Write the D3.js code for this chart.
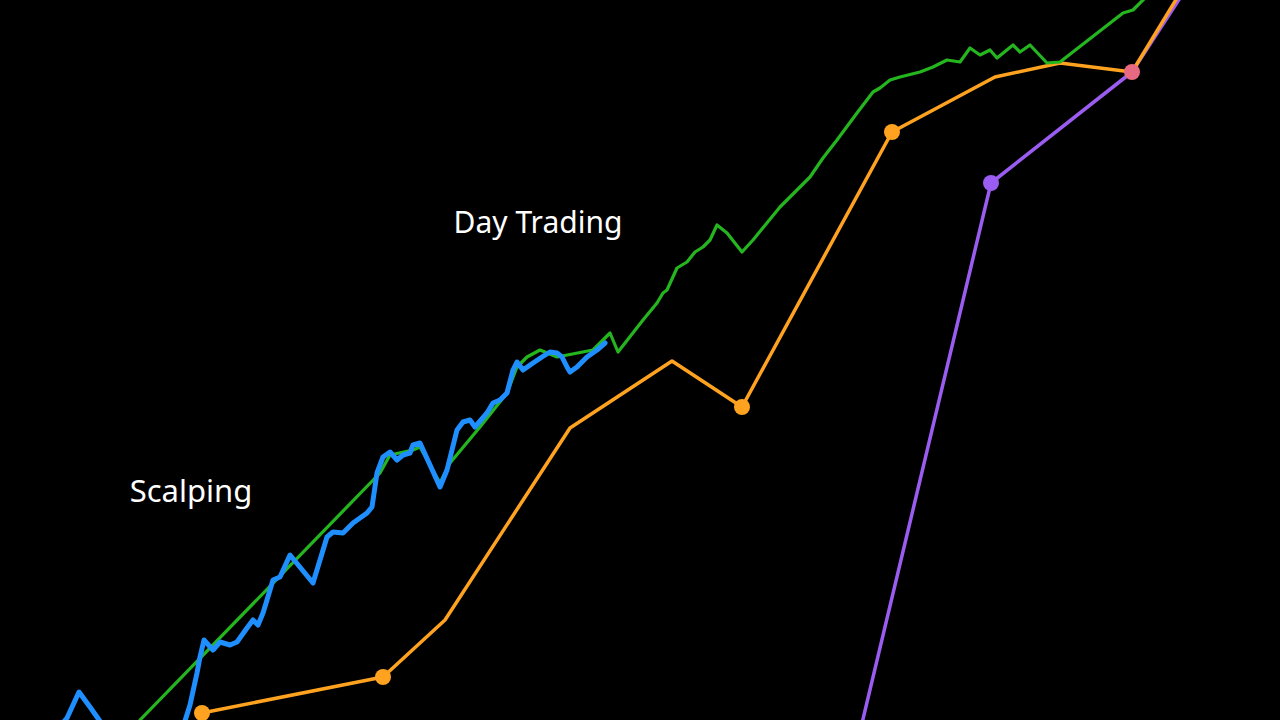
<!DOCTYPE html>
<html lang="en">

<head>
    <meta charset="utf-8">
    <script src='https://d3js.org/d3.v7.min.js'></script>
    <style>
        body { margin: 0; background: #000; overflow: hidden; }
    </style>
</head>

<body>
    <div class="chart"></div>

    <script>
        // Data (x = time, y = equity)
        const scalping1 = [[6.2, -0.4], [6.7, 0.2], [7.9, 2.8], [9.0, 1.3], [9.7, 0.3], [10.2, -0.4]];
        const scalping2 = [[18.4, -0.4], [19.0, 1.5], [19.7, 4.7], [20.0, 6.3], [20.4, 8.0], [21.3, 7.0], [22.0, 7.8],
            [23.0, 7.5], [23.7, 7.8], [24.7, 9.2], [25.3, 10.0], [25.8, 9.5], [26.3, 10.7], [26.7, 12.0], [27.3, 14.0],
            [28.0, 14.3], [29.0, 16.5], [31.3, 13.7], [32.7, 18.3], [33.3, 18.8], [34.3, 18.7], [35.3, 19.7], [36.7, 20.7],
            [37.2, 21.3], [37.7, 24.7], [38.3, 26.3], [39.0, 26.8], [39.7, 26.0], [40.3, 26.5], [41.0, 26.7], [41.3, 27.5],
            [42.0, 27.7], [43.0, 25.5], [44.0, 23.3], [44.7, 25.0], [45.7, 29.0], [46.3, 29.8], [47.0, 30.0], [47.5, 29.3],
            [48.7, 30.7], [49.3, 31.7], [50.0, 32.0], [50.7, 32.7], [51.3, 35.0], [51.7, 35.8], [52.3, 35.0], [53.3, 35.7],
            [54.2, 36.3], [55.0, 36.8], [55.7, 36.7], [56.2, 36.3], [56.7, 35.3], [57.0, 34.8], [57.7, 35.3], [58.7, 36.3],
            [59.7, 37.0], [60.5, 37.7]];
        const dayTrading = [[14.0, 0], [38.0, 24.7], [39.0, 26.5], [41.3, 27.0], [42.0, 27.3], [43.0, 25.5], [44.0, 23.7],
            [45.0, 25.7], [48.0, 29.3], [50.7, 32.7], [51.7, 35.3], [52.7, 36.3], [54.0, 37.0], [54.5, 36.8], [55.7, 36.3],
            [59.3, 37.0], [61.0, 38.7], [61.8, 36.8], [64.3, 40.0], [65.7, 41.7], [66.3, 42.7], [66.7, 43.0], [67.7, 45.2],
            [68.7, 45.8], [69.5, 46.8], [70.3, 47.3], [71.0, 48.0], [71.7, 49.5], [72.7, 48.7], [74.2, 46.8], [75.3, 48.0],
            [78.0, 51.3], [81.0, 54.3], [82.3, 56.2], [83.7, 58.0], [85.7, 60.7], [87.3, 62.8], [88.0, 63.2], [89.0, 64.0],
            [90.0, 64.3], [92.0, 64.8], [93.3, 65.3], [94.7, 66.0], [96.0, 65.8], [97.0, 67.2], [98.0, 66.5], [99.0, 67.0],
            [99.7, 66.2], [101.3, 67.5], [102.0, 66.8], [103.0, 67.5], [104.7, 65.7], [106.0, 65.8], [112.3, 70.7],
            [113.3, 71.0], [114.5, 72.2]];
        const swing = [[20.2, 0.7], [38.3, 4.3], [44.5, 10.0], [57.0, 29.2], [67.2, 35.9], [74.2, 31.3], [89.2, 58.8],
            [99.5, 64.3], [106.0, 65.7], [113.2, 64.8], [117.7, 72.2]];
        const position = [[85.8, -2], [99.1, 53.7], [113.2, 64.8], [118.0, 72.2]];

        // which points get a dot
        const swingDots = [20.2, 38.3, 74.2, 89.2];
        const positionDots = [99.1];
        const sharedDot = [[113.2, 64.8]];

        const labels = [
            { text: "Day Trading", x: 53.8, y: 48.7, size: 30 },
            { text: "Scalping", x: 19.1, y: 21.8, size: 31 }
        ];

        // Set Dimensions
        const xSize = 1280;
        const ySize = 720;

        const svg = d3.select(".chart")
            .append("svg")
            .attr("width", xSize)
            .attr("height", ySize)
            .style("display", "block")
            .style("background", "#000");

        // scales
        const x = d3.scaleLinear().domain([0, 128]).range([0, xSize]);
        const y = d3.scaleLinear().domain([0, 72]).range([ySize, 0]);

        const line = d3.line()
            .x(d => x(d[0]))
            .y(d => y(d[1]));

        // function to add one line
        function addLine(data, colour, width) {
            svg.append("path")
                .datum(data)
                .attr("fill", "none")
                .attr("stroke", colour)
                .attr("stroke-width", width)
                .attr("stroke-linejoin", "round")
                .attr("stroke-linecap", "round")
                .attr("d", line);
        }

        addLine(position, "#9b5cf2", 3.5);
        addLine(swing, "#ffa21f", 3.5);
        addLine(dayTrading, "#24b51f", 3.2);
        addLine(scalping1, "#1f8fff", 5);
        addLine(scalping2, "#1f8fff", 5);

        // dots
        function addDots(data, colour) {
            svg.selectAll(null)
                .data(data)
                .enter()
                .append("circle")
                .attr("cx", d => x(d[0]))
                .attr("cy", d => y(d[1]))
                .attr("r", 8)
                .attr("fill", colour);
        }
        addDots(swing.filter(d => swingDots.includes(d[0])), "#ffa21f");
        addDots(position.filter(d => positionDots.includes(d[0])), "#9b5cf2");
        addDots(sharedDot, "#e86a82");

        // labels
        svg.selectAll(null)
            .data(labels)
            .enter()
            .append("text")
            .attr("x", d => x(d.x))
            .attr("y", d => y(d.y))
            .attr("text-anchor", "middle")
            .attr("fill", "#fff")
            .style("font-family", "'Noto Sans', sans-serif")
            .style("font-size", d => d.size + "px")
            .text(d => d.text);
    </script>
</body>

</html>
